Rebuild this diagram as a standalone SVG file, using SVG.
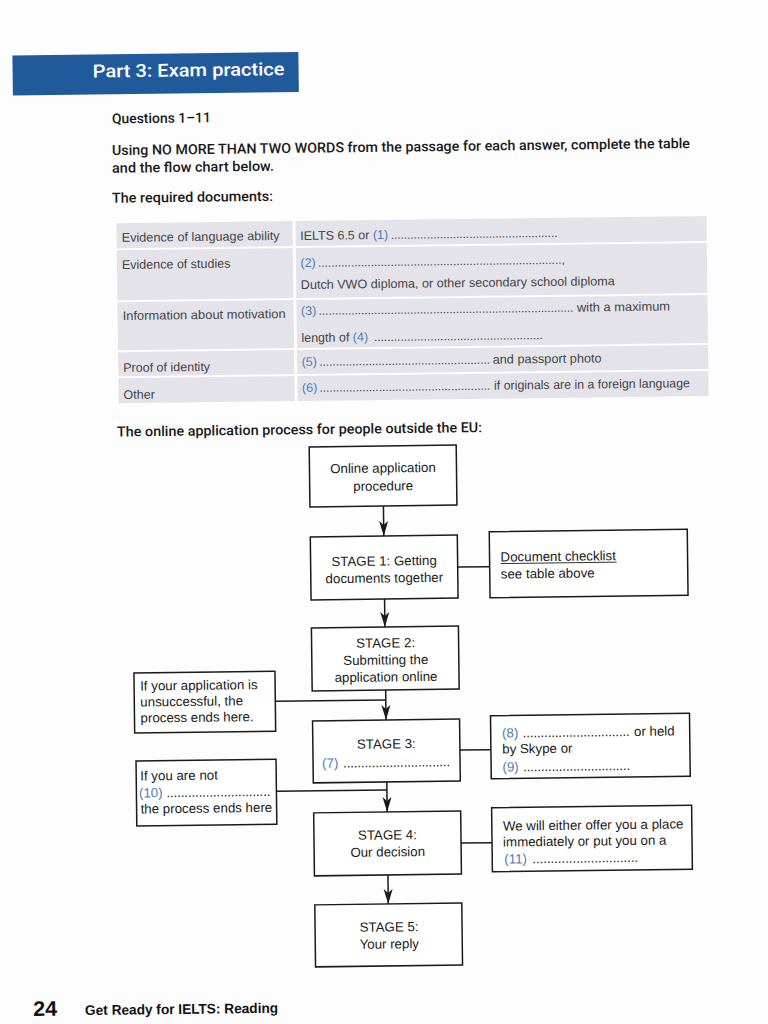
<svg xmlns="http://www.w3.org/2000/svg" width="768" height="1024" viewBox="0 0 768 1024">
<style>
.hd{font-family:Roboto,"Liberation Sans",Arial,sans-serif;font-weight:500;font-size:14px;fill:#1a1a1a}
.tb{font-family:"Liberation Sans",Arial,sans-serif;font-size:12.5px;fill:#444}
.ft{font-family:"Liberation Sans",Arial,sans-serif;font-size:13.3px;fill:#1a1a1a}
.num{fill:#4f7db3}
.cell{fill:#e3e3e9}
.box{fill:#fff;stroke:#1a1a1a;stroke-width:1.5}
.ln{stroke:#1a1a1a;stroke-width:1.5;fill:none}
.mid{text-anchor:middle}
</style>
<defs>
<marker id="ah" viewBox="0 0 16 10" refX="15" refY="5" markerWidth="16" markerHeight="10" markerUnits="userSpaceOnUse" orient="auto">
<path d="M15,5 L0,0.5 L4,5 L0,9.5 Z" fill="#1a1a1a"/>
</marker>
</defs>
<rect x="0" y="0" width="768" height="1024" fill="#fdfdfd"/>
<g transform="rotate(-0.7 384 512)">
<!-- banner -->
<rect x="18" y="51" width="286" height="40" fill="#215a9a"/>
<text x="98" y="74" font-family="Roboto,'Liberation Sans',Arial,sans-serif" font-weight="500" font-size="18" fill="#fff" textLength="192" lengthAdjust="spacingAndGlyphs">Part 3: Exam practice</text>

<!-- instructions -->
<text class="hd" x="116.7" y="120.2" textLength="99" lengthAdjust="spacingAndGlyphs">Questions 1–11</text>
<text class="hd" x="116.4" y="151.8" textLength="578" lengthAdjust="spacingAndGlyphs">Using NO MORE THAN TWO WORDS from the passage for each answer, complete the table</text>
<text class="hd" x="116.2" y="169.5" textLength="162" lengthAdjust="spacingAndGlyphs">and the flow chart below.</text>
<text class="hd" x="115.8" y="199.5" textLength="161" lengthAdjust="spacingAndGlyphs">The required documents:</text>

<!-- table -->
<g id="table">
<rect class="cell" x="120" y="220" width="176" height="25"/>
<rect class="cell" x="299" y="220" width="411" height="25"/>
<rect class="cell" x="120" y="247" width="176" height="50"/>
<rect class="cell" x="299" y="247" width="411" height="50"/>
<rect class="cell" x="120" y="299" width="176" height="48"/>
<rect class="cell" x="299" y="299" width="411" height="48"/>
<rect class="cell" x="120" y="349" width="176" height="24"/>
<rect class="cell" x="299" y="349" width="411" height="24"/>
<rect class="cell" x="120" y="375" width="176" height="25"/>
<rect class="cell" x="299" y="375" width="411" height="25"/>

<text class="tb" x="125" y="238.7" textLength="158" lengthAdjust="spacingAndGlyphs">Evidence of language ability</text>
<text class="tb" x="125" y="265.8">Evidence of studies</text>
<text class="tb" x="125" y="316.8" textLength="163" lengthAdjust="spacingAndGlyphs">Information about motivation</text>
<text class="tb" x="125" y="368.8">Proof of identity</text>
<text class="tb" x="125" y="395.8">Other</text>

<text class="tb" x="303.5" y="239">IELTS 6.5 or <tspan class="num">(1)</tspan></text>
<text class="tb" x="394" y="239" textLength="167" lengthAdjust="spacing">...................................................</text>

<text class="tb num" x="303.5" y="266">(2)</text>
<text class="tb" x="321" y="266" textLength="247" lengthAdjust="spacing">..........................................................................,</text>
<text class="tb" x="303.5" y="288" textLength="314" lengthAdjust="spacingAndGlyphs">Dutch VWO diploma, or other secondary school diploma</text>

<text class="tb num" x="303.5" y="314">(3)</text>
<text class="tb" x="321" y="314" textLength="255" lengthAdjust="spacing">..............................................................................</text>
<text class="tb" x="579.5" y="314" textLength="93" lengthAdjust="spacingAndGlyphs">with a maximum</text>
<text class="tb" x="303.5" y="341">length of <tspan class="num">(4)</tspan></text>
<text class="tb" x="376" y="341" textLength="169" lengthAdjust="spacing">...................................................</text>

<text class="tb num" x="303.5" y="365">(5)</text>
<text class="tb" x="321" y="365" textLength="171" lengthAdjust="spacing">....................................................</text>
<text class="tb" x="494.5" y="365" textLength="109" lengthAdjust="spacingAndGlyphs">and passport photo</text>

<text class="tb num" x="303.5" y="391">(6)</text>
<text class="tb" x="321" y="391" textLength="171" lengthAdjust="spacing">....................................................</text>
<text class="tb" x="495.5" y="391" textLength="196" lengthAdjust="spacingAndGlyphs">if originals are in a foreign language</text>
</g>

<text class="hd" x="118" y="433.3" font-weight="bold" textLength="365" lengthAdjust="spacingAndGlyphs">The online application process for people outside the EU:</text>

<!-- connectors -->
<g id="connectors">
<line class="ln" x1="383.5" y1="506" x2="383.5" y2="536" marker-end="url(#ah)"/>
<line class="ln" x1="383.5" y1="599" x2="383.5" y2="627" marker-end="url(#ah)"/>
<line class="ln" x1="383.5" y1="690" x2="383.5" y2="720" marker-end="url(#ah)"/>
<line class="ln" x1="383.5" y1="782" x2="383.5" y2="812" marker-end="url(#ah)"/>
<line class="ln" x1="383.5" y1="875" x2="383.5" y2="904" marker-end="url(#ah)"/>
<line class="ln" x1="457" y1="568" x2="489" y2="568"/>
<line class="ln" x1="457" y1="751" x2="488" y2="751"/>
<line class="ln" x1="457" y1="844" x2="488" y2="844"/>
<line class="ln" x1="273" y1="700" x2="383.5" y2="700"/>
<line class="ln" x1="273" y1="790" x2="383.5" y2="790"/>
</g>

<g id="online">
<rect class="box" x="310" y="446" width="147" height="60"/>
<text class="ft mid" x="383.5" y="472.5">Online application</text>
<text class="ft mid" x="383.5" y="490.5">procedure</text>
</g>

<g id="stage1">
<rect class="box" x="310" y="536" width="147" height="63"/>
<text class="ft mid" x="383.5" y="565.5">STAGE 1: Getting</text>
<text class="ft mid" x="383.5" y="582.5">documents together</text>
</g>

<g id="checklist">
<rect class="box" x="489" y="533" width="198" height="66"/>
<text class="ft" x="500" y="563">Document checklist</text>
<line x1="500" y1="565" x2="616" y2="565" stroke="#1a1a1a" stroke-width="0.9"/>
<text class="ft" x="500" y="580">see table above</text>
</g>

<g id="stage2">
<rect class="box" x="310" y="627" width="147" height="63"/>
<text class="ft mid" x="384" y="647.5">STAGE 2:</text>
<text class="ft mid" x="384" y="664.5">Submitting the</text>
<text class="ft mid" x="384" y="681.5">application online</text>
</g>

<g id="unsuccessful">
<rect class="box" x="132" y="670" width="141" height="60"/>
<text class="ft" x="138" y="687.5">If your application is</text>
<text class="ft" x="138" y="703.5">unsuccessful, the</text>
<text class="ft" x="138" y="719.5">process ends here.</text>
</g>

<g id="stage3">
<rect class="box" x="310" y="720" width="147" height="62"/>
<text class="ft mid" x="383.5" y="748.5">STAGE 3:</text>
<text class="ft num" x="319" y="767">(7)</text>
<text class="ft" x="340" y="767" textLength="107" lengthAdjust="spacing">..............................</text>
</g>

<g id="interview">
<rect class="box" x="488" y="717" width="199" height="63"/>
<text class="ft num" x="499.3" y="739">(8)</text>
<text class="ft" x="520" y="739" textLength="107" lengthAdjust="spacing">..............................</text>
<text class="ft" x="631.3" y="739">or held</text>
<text class="ft" x="499.3" y="755">by Skype or</text>
<text class="ft num" x="499.3" y="773">(9)</text>
<text class="ft" x="520" y="773" textLength="107" lengthAdjust="spacing">..............................</text>
</g>

<g id="notselected">
<rect class="box" x="133" y="758" width="140" height="65"/>
<text class="ft" x="137" y="777.5">If you are not</text>
<text class="ft num" x="135.5" y="794.5">(10)</text>
<text class="ft" x="163" y="794.5" textLength="104" lengthAdjust="spacing">.............................</text>
<text class="ft" x="137" y="810.5">the process ends here</text>
</g>

<g id="stage4">
<rect class="box" x="310" y="812" width="147" height="63"/>
<text class="ft mid" x="383.5" y="839.5">STAGE 4:</text>
<text class="ft mid" x="383.5" y="856.5">Our decision</text>
</g>

<g id="offer">
<rect class="box" x="488" y="809" width="200" height="64"/>
<text class="ft" x="499" y="832">We will either offer you a place</text>
<text class="ft" x="499" y="848">immediately or put you on a</text>
<text class="ft num" x="500" y="865">(11)</text>
<text class="ft" x="528" y="865" textLength="106" lengthAdjust="spacing">.............................</text>
</g>

<g id="stage5">
<rect class="box" x="310" y="904" width="147" height="62"/>
<text class="ft mid" x="384" y="931.5">STAGE 5:</text>
<text class="ft mid" x="384" y="948.5">Your reply</text>
</g>

<!-- footer -->
<text x="27" y="1011.7" font-family="'Liberation Sans',Arial,sans-serif" font-weight="bold" font-size="21" fill="#111" textLength="24" lengthAdjust="spacingAndGlyphs">24</text>
<text x="79" y="1011.4" font-family="'Liberation Sans',Arial,sans-serif" font-weight="bold" font-size="14" fill="#111" textLength="193" lengthAdjust="spacingAndGlyphs">Get Ready for IELTS: Reading</text>
</g>
</svg>
